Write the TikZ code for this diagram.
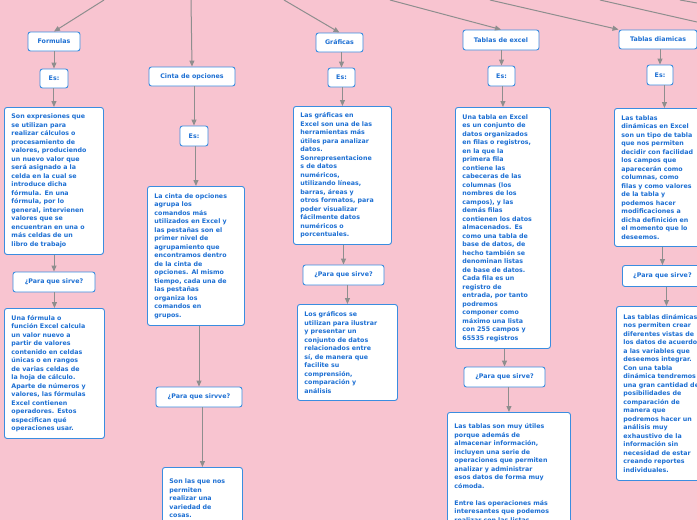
\documentclass[tikz,border=0pt]{standalone}
\usepackage{fontspec}
\setmainfont{DejaVu Sans}
\usetikzlibrary{arrows.meta}
\definecolor{bgc}{HTML}{F8C4D0}
\definecolor{bord}{HTML}{3A8DE0}
\definecolor{txc}{HTML}{1C6FD3}
\definecolor{arc}{HTML}{8E8E8E}
\begin{document}
\begin{tikzpicture}[x=1pt,y=-1pt,
  base/.style={draw=bord,fill=white,rounded corners=2.5pt,line width=0.9pt,text=txc,
    font=\fontsize{6.3}{8.5}\selectfont\bfseries},
  lbox/.style={base,inner sep=1pt,align=center},
  tbox/.style={base,anchor=north west,align=left,inner xsep=7pt,inner ysep=5pt},
  con/.style={draw=arc,line width=1pt,-{Triangle[length=6pt,width=5pt]}}]
\fill[bgc] (0,0) rectangle (697,520);
\useasboundingbox (0,0) rectangle (697,520);
\clip (0,0) rectangle (697,520);
% column 1
\node[lbox,minimum width=52pt,minimum height=19pt] (f) at (54,41.5) {Formulas};
\node[lbox,minimum width=28pt,minimum height=19pt] (fe) at (54,78.5) {Es:};
\node[tbox,minimum width=99pt,minimum height=147pt,text width=85pt] (ft) at (4,107) {Son expresiones que\\se utilizan para\\realizar cálculos o\\procesamiento de\\valores, produciendo\\un nuevo valor que\\será asignado a la\\celda en la cual se\\introduce dicha\\fórmula. En una\\fórmula, por lo\\general, intervienen\\valores que se\\encuentran en una o\\más celdas de un\\libro de trabajo};
\node[lbox,minimum width=82pt,minimum height=20pt] (fp) at (54,282) {¿Para que sirve?};
\node[tbox,minimum width=100pt,minimum height=130pt,text width=86pt] (fs) at (4,308) {Una fórmula o\\función Excel calcula\\un valor nuevo a\\partir de valores\\contenido en celdas\\únicas o en rangos\\de varias celdas de\\la hoja de cálculo.\\Aparte de números y\\valores, las fórmulas\\Excel contienen\\operadores. Estos\\especifican qué\\operaciones usar.};
% column 2
\node[lbox,minimum width=86pt,minimum height=19pt] (c) at (192,76.5) {Cinta de opciones};
\node[lbox,minimum width=28pt,minimum height=20pt] (ce) at (194,136) {Es:};
\node[tbox,minimum width=97pt,minimum height=139pt,text width=83pt] (ct) at (147,186) {La cinta de opciones\\agrupa los\\comandos más\\utilizados en Excel y\\las pestañas son el\\primer nivel de\\agrupamiento que\\encontramos dentro\\de la cinta de\\opciones. Al mismo\\tiempo, cada una de\\las pestañas\\organiza los\\comandos en\\grupos.};
\node[lbox,minimum width=86pt,minimum height=20pt] (cp) at (199,397) {¿Para que sirvve?};
\node[tbox,minimum width=80pt,minimum height=62pt,text width=66pt] (cs) at (162,467) {Son las que nos\\permiten\\realizar una\\variedad de\\cosas.};
% column 3
\node[lbox,minimum width=47pt,minimum height=19pt] (g) at (339.5,42.5) {Gráficas};
\node[lbox,minimum width=27pt,minimum height=19pt] (ge) at (341.5,77.5) {Es:};
\node[tbox,minimum width=98pt,minimum height=138pt,text width=84pt] (gt) at (293,106) {Las gráficas en\\Excel son una de las\\herramientas más\\útiles para analizar\\datos.\\Sonrepresentacione\\s de datos\\numéricos,\\utilizando líneas,\\barras, áreas y\\otros formatos, para\\poder visualizar\\fácilmente datos\\numéricos o\\porcentuales.};
\node[lbox,minimum width=81pt,minimum height=20pt] (gp) at (343.5,275) {¿Para que sirve?};
\node[tbox,minimum width=100pt,minimum height=96pt,text width=86pt] (gs) at (297,304) {Los gráficos se\\utilizan para ilustrar\\y presentar un\\conjunto de datos\\relacionados entre\\sí, de manera que\\facilite su\\comprensión,\\comparación y\\análisis};
% column 4
\node[lbox,minimum width=76pt,minimum height=20pt] (t) at (501,40) {Tablas de excel};
\node[lbox,minimum width=27pt,minimum height=20pt] (te) at (501.5,76) {Es:};
\node[tbox,minimum width=95pt,minimum height=241pt,text width=81pt] (tt) at (455,107) {Una tabla en Excel\\es un conjunto de\\datos organizados\\en filas o registros,\\en la que la\\primera fila\\contiene las\\cabeceras de las\\columnas (los\\nombres de los\\campos), y las\\demás filas\\contienen los datos\\almacenados. Es\\como una tabla de\\base de datos, de\\hecho también se\\denominan listas\\de base de datos.\\Cada fila es un\\registro de\\entrada, por tanto\\podremos\\componer como\\máximo una lista\\con 255 campos y\\65535 registros};
\node[lbox,minimum width=81pt,minimum height=20pt] (tp) at (504.5,377) {¿Para que sirve?};
\node[tbox,minimum width=123pt,minimum height=130pt,text width=109pt,inner ysep=8pt] (ts) at (447,412) {Las tablas son muy útiles\\porque además de\\almacenar información,\\incluyen una serie de\\operaciones que permiten\\analizar y administrar\\esos datos de forma muy\\cómoda.\\[8.5pt]Entre las operaciones más\\interesantes que podemos\\realizar con las listas\\tenemos:};
% column 5
\node[lbox,minimum width=78pt,minimum height=19pt] (d) at (658,39.5) {Tablas diamicas};
\node[lbox,minimum width=26pt,minimum height=20pt] (de) at (660,75) {Es:};
\node[tbox,minimum width=100pt,minimum height=138pt,text width=86pt] (dt) at (614,108) {Las tablas\\dinámicas en Excel\\son un tipo de tabla\\que nos permiten\\decidir con facilidad\\los campos que\\aparecerán como\\columnas, como\\filas y como valores\\de la tabla y\\podemos hacer\\modificaciones a\\dicha definición en\\el momento que lo\\deseemos.};
\node[lbox,minimum width=80pt,minimum height=21pt,anchor=west] (dp) at (622,276) {¿Para que sirve?};
\node[tbox,minimum width=100pt,minimum height=174pt,text width=86pt] (ds) at (616,306) {Las tablas dinámicas\\nos permiten crear\\diferentes vistas de\\los datos de acuerdo\\a las variables que\\deseemos integrar.\\Con una tabla\\dinámica tendremos\\una gran cantidad de\\posibilidades de\\comparación de\\manera que\\podremos hacer un\\análisis muy\\exhaustivo de la\\información sin\\necesidad de estar\\creando reportes\\individuales.};
% top connectors
\coordinate (s1) at (104,0); \coordinate (s2) at (191,0); \coordinate (s3) at (284,0);
\coordinate (s4) at (390,0); \coordinate (s5) at (490,0);
\coordinate (s6) at (600,0); \coordinate (e6) at (697,22);
\coordinate (s7) at (680,0); \coordinate (e7) at (697,3);
\draw[con] (s1) -- (f.north);
\draw[con] (s2) -- (c.north);
\draw[con] (s3) -- (g.north);
\draw[con] (s4) -- (t.north);
\draw[con] (s5) -- (d.north west);
\draw[draw=arc,line width=1pt] (s6) -- (e6);
\draw[draw=arc,line width=1pt] (s7) -- (e7);
% vertical connectors
\foreach \a/\b in {f/fe,fe/ft,ft/fp,fp/fs,c/ce,ce/ct,ct/cp,cp/cs,g/ge,ge/gt,gt/gp,gp/gs,t/te,te/tt,tt/tp,tp/ts,d/de,de/dt}
  \draw[con] (\b.north) ++(0,-14pt) coordinate (tmp) (\a.south -| \b.north) -- (\b.north);
\draw[con] (dt.south -| dp.north) -- (dp.north);
\draw[con] (dp.south -| ds.north) -- (ds.north);
\end{tikzpicture}
\end{document}
